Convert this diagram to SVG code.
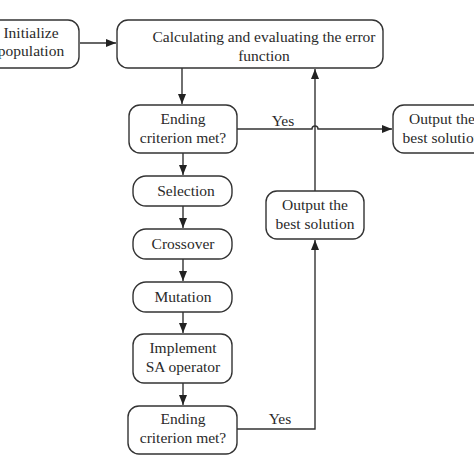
<svg xmlns="http://www.w3.org/2000/svg" width="474" height="474" viewBox="0 0 474 474">
<style>
.box{fill:#fff;stroke:#333;stroke-width:1.4}
.t{font-family:"Liberation Serif","Times New Roman",serif;font-size:15.5px;fill:#2a2a2a;text-anchor:middle}
.ln{fill:none;stroke:#333;stroke-width:1.4}
</style>
<defs>
<marker id="ah" markerWidth="10" markerHeight="8" refX="10" refY="4" orient="auto" markerUnits="userSpaceOnUse">
<path d="M0,0 L10,4 L0,8 Z" fill="#222"/>
</marker>
</defs>
<rect width="474" height="474" fill="#fff"/>
<g id="connectors">
<path class="ln" d="M80,43 H116" marker-end="url(#ah)"/>
<path class="ln" d="M182,68 V104" marker-end="url(#ah)"/>
<path class="ln" d="M237,129 H312 A3,3 0 0 1 318,129 H392" marker-end="url(#ah)"/>
<path class="ln" d="M315,191 V69" marker-end="url(#ah)"/>
<path class="ln" d="M183,153 V175" marker-end="url(#ah)"/>
<path class="ln" d="M183,206 V228" marker-end="url(#ah)"/>
<path class="ln" d="M183,259 V281" marker-end="url(#ah)"/>
<path class="ln" d="M183,312 V333" marker-end="url(#ah)"/>
<path class="ln" d="M183,383 V405" marker-end="url(#ah)"/>
<path class="ln" d="M237,429 H315 V240" marker-end="url(#ah)"/>
<text class="t" x="283" y="126">Yes</text>
<text class="t" x="280" y="424">Yes</text>
</g>
<g id="init">
<rect class="box" x="-17" y="20" width="96" height="48" rx="11"/>
<text class="t" x="31" y="38">Initialize</text>
<text class="t" x="31" y="56">population</text>
</g>
<g id="calc">
<rect class="box" x="117" y="20" width="266" height="48" rx="11"/>
<text class="t" x="264" y="42">Calculating and evaluating the error</text>
<text class="t" x="264" y="61">function</text>
</g>
<g id="end1">
<rect class="box" x="129" y="105" width="108" height="48" rx="11"/>
<text class="t" x="183" y="124">Ending</text>
<text class="t" x="183" y="143">criterion met?</text>
</g>
<g id="out1">
<rect class="box" x="393" y="105" width="98" height="48" rx="11"/>
<text class="t" x="442" y="124">Output the</text>
<text class="t" x="442" y="143">best solution</text>
</g>
<g id="sel">
<rect class="box" x="133" y="176" width="99" height="30" rx="13"/>
<text class="t" x="186" y="196">Selection</text>
</g>
<g id="cross">
<rect class="box" x="133" y="229" width="99" height="30" rx="13"/>
<text class="t" x="183" y="249">Crossover</text>
</g>
<g id="mut">
<rect class="box" x="133" y="282" width="99" height="30" rx="13"/>
<text class="t" x="183" y="302">Mutation</text>
</g>
<g id="impl">
<rect class="box" x="133" y="334" width="99" height="49" rx="11"/>
<text class="t" x="183" y="353">Implement</text>
<text class="t" x="183" y="372">SA operator</text>
</g>
<g id="end2">
<rect class="box" x="128" y="406" width="109" height="48" rx="11"/>
<text class="t" x="183" y="424">Ending</text>
<text class="t" x="183" y="443">criterion met?</text>
</g>
<g id="out2">
<rect class="box" x="266" y="191" width="98" height="48" rx="11"/>
<text class="t" x="315" y="210">Output the</text>
<text class="t" x="315" y="229">best solution</text>
</g>
</svg>
